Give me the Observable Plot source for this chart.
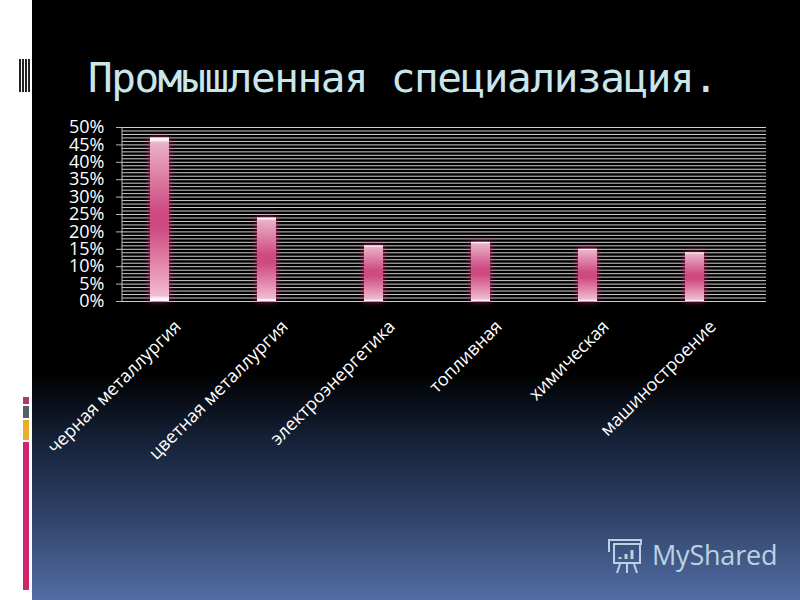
<!DOCTYPE html>
<html lang="ru">
<head>
<meta charset="utf-8">
<script src="https://cdn.jsdelivr.net/npm/d3@7"></script>
<script src="https://cdn.jsdelivr.net/npm/@observablehq/plot@0.6"></script>
<style>
html,body{margin:0;padding:0;background:#fff;overflow:hidden}
#page{position:relative;width:800px;height:600px;overflow:hidden;background:#fff}
#panel{position:absolute;left:32px;top:0;width:768px;height:600px;background:linear-gradient(180deg,#000 0,#000 62%,#16233a 74%,#2f4368 86%,#536da4 100%)}
.dec{position:absolute}
#title{position:absolute;left:88px;top:50px;font:41px/56px "DejaVu Sans Mono",monospace;letter-spacing:-1.4px;color:#c8e6ec;white-space:nowrap}
#chart{position:absolute;left:0;top:0}
#logo{position:absolute;left:652px;top:537px;font:27px/36px "Open Sans",sans-serif;color:#b9d3e2;letter-spacing:-.2px}
#icon{position:absolute;left:606px;top:536px}
</style>
</head>
<body>
<div id="page">
  <div id="panel"></div>
  <div class="dec" style="left:19px;top:59px;width:12px;height:33px;background:repeating-linear-gradient(90deg,#222 0 2px,#fff 2px 3px)"></div>
  <div class="dec" style="left:23px;top:397px;width:6px;height:7px;background:#b03a6a"></div>
  <div class="dec" style="left:23px;top:406px;width:6px;height:12px;background:#565f6c"></div>
  <div class="dec" style="left:23px;top:420px;width:6px;height:20px;background:#e8b028"></div>
  <div class="dec" style="left:23px;top:442px;width:6px;height:148px;background:#d0246e"></div>
  <div id="title">Промышленная специализация.</div>
  <div id="chart"></div>
  <svg id="icon" width="40" height="40" viewBox="0 0 40 40" fill="none" stroke="#b9d3e2" stroke-width="2">
    <path d="M3 16V4h32v4H8v8"/><rect x="8" y="8" width="26" height="19"/>
    <path d="M14 28l-3 9M21 28v9M28 28l3 9"/>
    <path d="M14 23v-2M20 23v-5M26 23v-9" stroke-width="3"/>
  </svg>
  <div id="logo">MyShared</div>
</div>
<script>
const categories = ["черная металлургия","цветная металлургия","электроэнергетика","топливная","химическая","машиностроение"];
const shares = [47, 24, 16, 17, 15, 14];
const tickValues = [0,5,10,15,20,25,30,35,40,45,50];
const gridValues = [0,1,2,3,4,5,6,7,8,9,10,11,12,13,14,15,16,17,18,19,20,21,22,23,24,25,26,27,28,29,30,31,32,33,34,35,36,37,38,39,40,41,42,43,44,45,46,47,48,49,50];
const rows = categories.map((c,i)=>({category:c,share:shares[i]}));

const chart = Plot.plot({
  width:800, height:600,
  marginLeft:122, marginRight:34, marginTop:127, marginBottom:299,
  style:{background:"transparent",color:"#fff"},
  x:{domain:categories,paddingInner:0.82,paddingOuter:0.415,align:0.315,label:null},
  y:{domain:[0,50],label:null},
  marks:[
    Plot.ruleY(gridValues,{y:d=>d,stroke:"#cfcfcf",strokeWidth:1}),
    Plot.axisY({ticks:tickValues,tickFormat:d=>d+"%",tickSize:6,tickPadding:12,stroke:"#bbb",fill:"#fff",fontSize:18,fontFamily:"Open Sans, sans-serif",label:null}),
    Plot.axisX({tickSize:0,tickRotate:-45,textAnchor:"end",tickPadding:16,dx:18,dy:6,fill:"#fff",fontSize:18,fontFamily:"Open Sans, sans-serif",label:null,lineAnchor:"middle"}),
    Plot.barY(rows,{x:"category",y:"share",fill:"url(#barGrad)",imageFilter:"drop-shadow(0 0 3px #c8206a)"})
  ]
});
const svg = d3.select(chart);
const stops = [[0,"#ffffff"],[0.018,"#fff0f4"],[0.032,"#eab2c8"],[0.45,"#cf4a80"],[0.55,"#cf4a80"],[0.968,"#f0bcd0"],[0.982,"#fff0f4"],[1,"#ffffff"]];
const grad = svg.append("defs").append("linearGradient").attr("id","barGrad").attr("x1",0).attr("y1",0).attr("x2",0).attr("y2",1);
stops.forEach(([o,c])=>grad.append("stop").attr("offset",o).attr("stop-color",c));
svg.append("line").attr("x1",122).attr("x2",122).attr("y1",127).attr("y2",301).attr("stroke","#bbb");
document.getElementById("chart").appendChild(chart);
</script>
</body>
</html>
